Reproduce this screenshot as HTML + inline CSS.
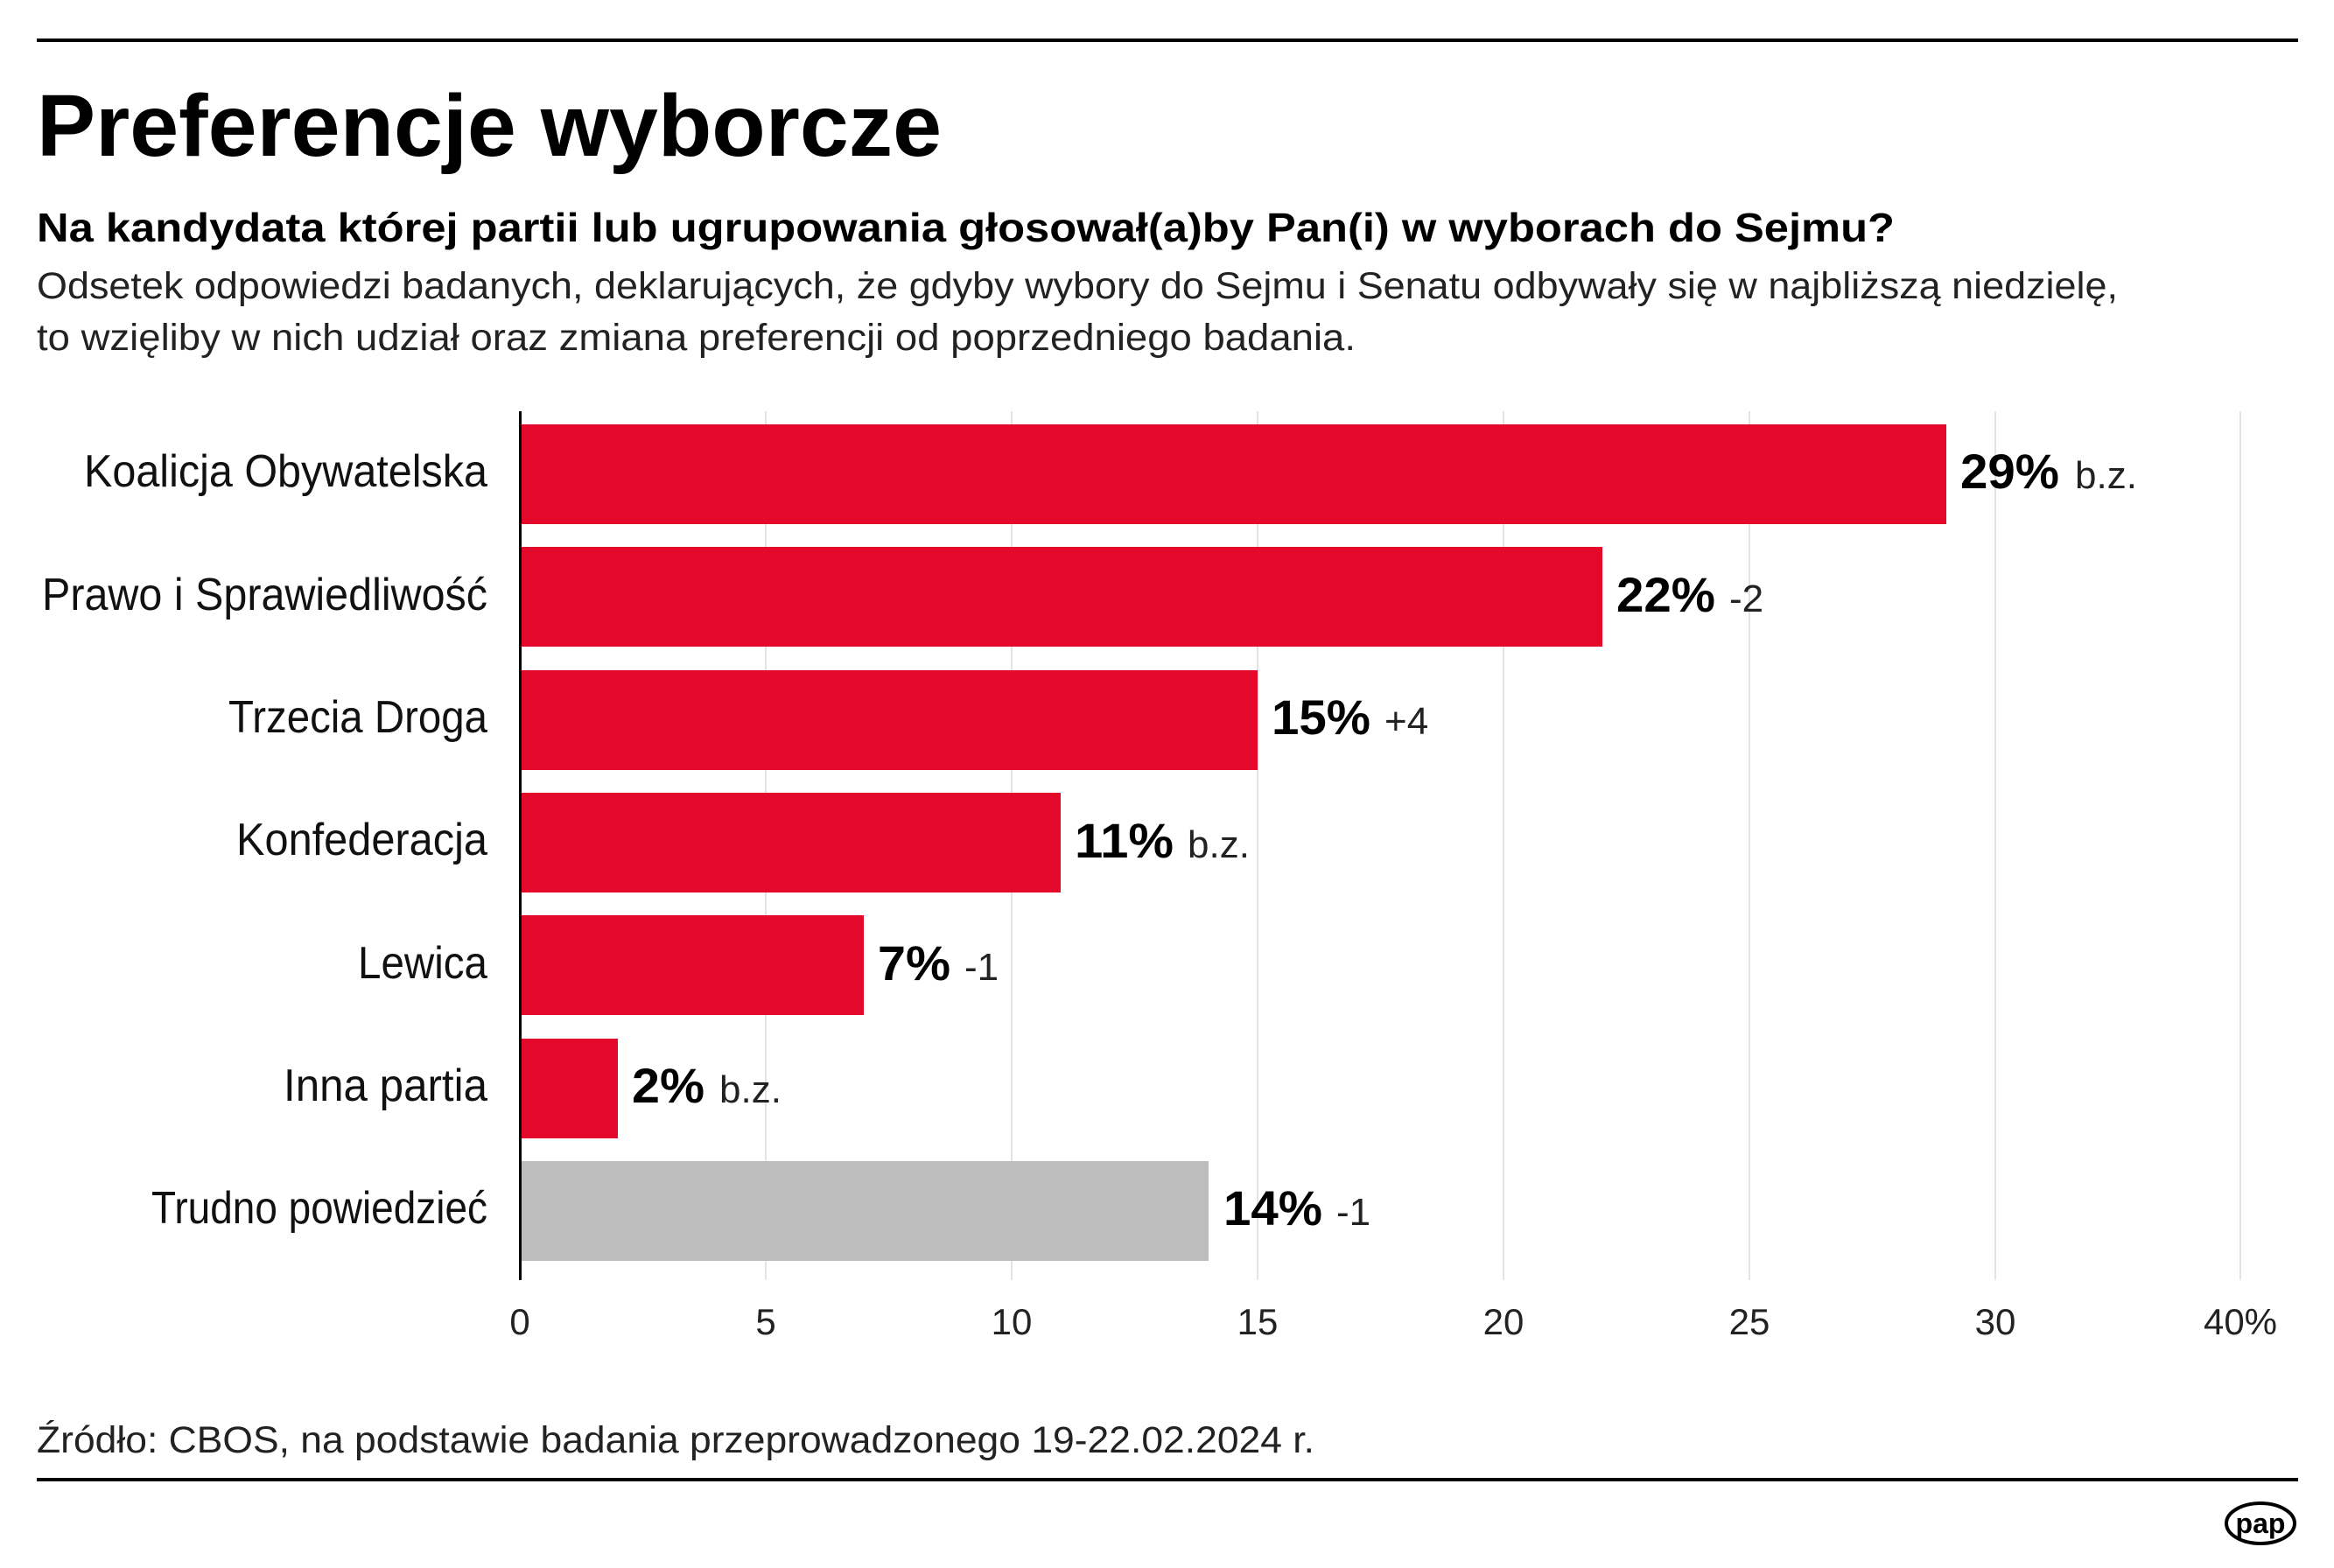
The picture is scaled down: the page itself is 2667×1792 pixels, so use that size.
<!DOCTYPE html>
<html><head><meta charset="utf-8"><style>
html,body{margin:0;padding:0;background:#fff;}
svg{display:block;}
text{font-family:"Liberation Sans","DejaVu Sans",sans-serif;}
</style></head><body>
<svg width="2667" height="1792" viewBox="0 0 2667 1792" xmlns="http://www.w3.org/2000/svg">
<rect x="42" y="44" width="2584" height="4" fill="#000"/>
<text x="42" y="178" font-size="100" font-weight="bold" textLength="1034" lengthAdjust="spacingAndGlyphs">Preferencje wyborcze</text>
<text x="42" y="276" font-size="46" font-weight="bold" textLength="2123" lengthAdjust="spacingAndGlyphs">Na kandydata której partii lub ugrupowania głosował(a)by Pan(i) w wyborach do Sejmu?</text>
<text x="42" y="341" font-size="43" fill="#222" textLength="2378" lengthAdjust="spacingAndGlyphs">Odsetek odpowiedzi badanych, deklarujących, że gdyby wybory do Sejmu i Senatu odbywały się w najbliższą niedzielę,</text>
<text x="42" y="400" font-size="43" fill="#222" textLength="1507" lengthAdjust="spacingAndGlyphs">to wzięliby w nich udział oraz zmiana preferencji od poprzedniego badania.</text>
<g stroke="#e3e3e3" stroke-width="2">
<line x1="875" y1="470" x2="875" y2="1463"/>
<line x1="1156" y1="470" x2="1156" y2="1463"/>
<line x1="1437" y1="470" x2="1437" y2="1463"/>
<line x1="1718" y1="470" x2="1718" y2="1463"/>
<line x1="1999" y1="470" x2="1999" y2="1463"/>
<line x1="2280" y1="470" x2="2280" y2="1463"/>
<line x1="2560" y1="470" x2="2560" y2="1463"/>
</g>
<g fill="#e4082a">
<rect x="594" y="485" width="1630" height="114"/>
<rect x="594" y="625" width="1237" height="114"/>
<rect x="594" y="766" width="843" height="114"/>
<rect x="594" y="906" width="618" height="114"/>
<rect x="594" y="1046" width="393" height="114"/>
<rect x="594" y="1187" width="112" height="114"/>
</g>
<rect x="594" y="1327" width="787" height="114" fill="#bdbdbd"/>
<rect x="593" y="470" width="3" height="993" fill="#000"/>
<g font-size="52" fill="#111" text-anchor="end">
<text x="557" y="556" textLength="461" lengthAdjust="spacingAndGlyphs">Koalicja Obywatelska</text>
<text x="557" y="697" textLength="509" lengthAdjust="spacingAndGlyphs">Prawo i Sprawiedliwość</text>
<text x="557" y="837" textLength="296" lengthAdjust="spacingAndGlyphs">Trzecia Droga</text>
<text x="557" y="977" textLength="287" lengthAdjust="spacingAndGlyphs">Konfederacja</text>
<text x="557" y="1118" textLength="148" lengthAdjust="spacingAndGlyphs">Lewica</text>
<text x="557" y="1258" textLength="233" lengthAdjust="spacingAndGlyphs">Inna partia</text>
<text x="557" y="1398" textLength="384" lengthAdjust="spacingAndGlyphs">Trudno powiedzieć</text>
</g>
<g>
<text x="2240" y="558" font-size="56" font-weight="bold" textLength="113" lengthAdjust="spacingAndGlyphs">29%</text>
<text x="2371" y="558" font-size="44" fill="#222">b.z.</text>
<text x="1847" y="699" font-size="56" font-weight="bold" textLength="113" lengthAdjust="spacingAndGlyphs">22%</text>
<text x="1976" y="699" font-size="44" fill="#222">-2</text>
<text x="1453" y="839" font-size="56" font-weight="bold" textLength="113" lengthAdjust="spacingAndGlyphs">15%</text>
<text x="1582" y="839" font-size="44" fill="#222">+4</text>
<text x="1228" y="980" font-size="56" font-weight="bold" textLength="113" lengthAdjust="spacingAndGlyphs">11%</text>
<text x="1357" y="980" font-size="44" fill="#222">b.z.</text>
<text x="1003" y="1120" font-size="56" font-weight="bold" textLength="83" lengthAdjust="spacingAndGlyphs">7%</text>
<text x="1102" y="1120" font-size="44" fill="#222">-1</text>
<text x="722" y="1260" font-size="56" font-weight="bold" textLength="83" lengthAdjust="spacingAndGlyphs">2%</text>
<text x="822" y="1260" font-size="44" fill="#222">b.z.</text>
<text x="1398" y="1400" font-size="56" font-weight="bold" textLength="113" lengthAdjust="spacingAndGlyphs">14%</text>
<text x="1527" y="1400" font-size="44" fill="#222">-1</text>
</g>
<g font-size="42" fill="#222" text-anchor="middle">
<text x="594" y="1525">0</text>
<text x="875" y="1525">5</text>
<text x="1156" y="1525">10</text>
<text x="1437" y="1525">15</text>
<text x="1718" y="1525">20</text>
<text x="1999" y="1525">25</text>
<text x="2280" y="1525">30</text>
<text x="2560" y="1525">40%</text>
</g>
<text x="42" y="1660" font-size="43" fill="#222" textLength="1460" lengthAdjust="spacingAndGlyphs">Źródło: CBOS, na podstawie badania przeprowadzonego 19-22.02.2024 r.</text>
<rect x="42" y="1689" width="2584" height="4" fill="#000"/>
<ellipse cx="2583" cy="1741" rx="39" ry="23" fill="#fff" stroke="#000" stroke-width="4"/>
<text x="2583" y="1752" font-size="32" font-weight="bold" text-anchor="middle">pap</text>
</svg>
</body></html>
